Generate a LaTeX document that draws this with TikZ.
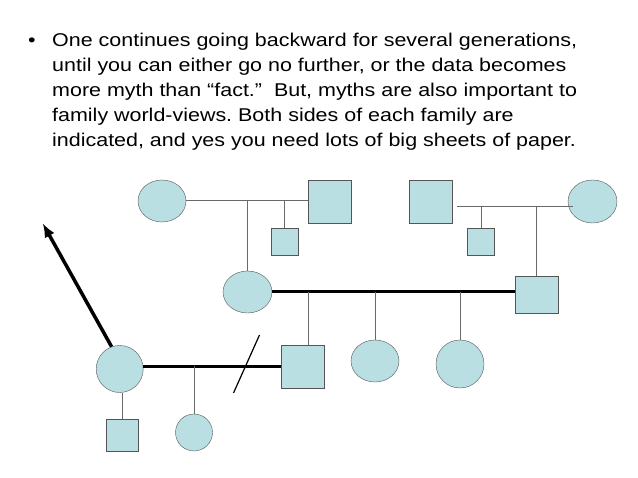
\documentclass[tikz,border=0pt]{standalone}
\usepackage{fontspec}
\setmainfont{Liberation Sans}[FakeStretch=1.16]
\usetikzlibrary{shapes,arrows,arrows.meta,calc}
\definecolor{kinfill}{RGB}{185,223,227}
\definecolor{kinedge}{RGB}{85,85,85}
\definecolor{kinline}{RGB}{105,105,105}
\tikzstyle{line} = [draw=kinline, line width=1pt]
\tikzstyle{bond} = [draw, line width=3pt]
\tikzstyle{female} = [draw=kinedge, fill=kinfill, ellipse, minimum width=48pt, minimum height=42pt, inner sep=0pt]
\tikzstyle{male} = [draw=kinedge, fill=kinfill, rectangle, minimum size=43pt, inner sep=0pt]
\tikzstyle{kid} = [male, minimum size=27pt]
\frenchspacing

\begin{document}
\begin{tikzpicture}[x=1pt, y=-1pt, font={\fontsize{18.5}{25}\selectfont}]
        \useasboundingbox (0,0) rectangle (638,478);
        % bullet text
        \node[anchor=base west, inner sep=0pt] (dot) at (28,46.7) {•};
        \node[anchor=base west, inner sep=0pt, align=left] (txt) at (52,146.7) {One continues going backward for several generations,\\until you can either go no further, or the data becomes\\more myth than “fact.”\ \ But, myths are also important to\\family world-views. Both sides of each family are\\indicated, and yes you need lots of big sheets of paper.};
        % grandparents
        \node[female] (gma1) at (162,201) {};
        \node[male] (gpa1) at (329.5,201.5) {};
        \node[kid] (uncle1) at (284.5,241.5) {};
        \node[male] (gpa2) at (430.5,201.5) {};
        \node[kid] (uncle2) at (481,241.5) {};
        \node[female, minimum width=49pt, minimum height=43pt] (gma2) at (592.5,201.5) {};
        % parents
        \node[female, minimum width=49pt] (mom) at (247.5,292) {};
        \node[male, minimum height=37pt] (dad) at (536.5,294.5) {};
        % siblings
        \node[male] (bro) at (303,366.5) {};
        \node[female] (sis1) at (375,361) {};
        \node[female, minimum height=48pt] (sis2) at (460,364) {};
        \node[female, minimum width=47pt, minimum height=47pt] (self) at (119.7,369) {};
        % next generation
        \node[male, minimum size=32pt] (son) at (122,435) {};
        \node[female, minimum width=37pt, minimum height=37pt] (dtr) at (194,432.5) {};
        \coordinate (w2) at ($(gpa2.east)+(5,5)$);
        \coordinate (e2) at ($(gma2.west)+(5,5)$);
        \coordinate (cut) at (246.5,364);
        \coordinate (back) at (42.7,223.3);
        \path[line] (gma1.east) -- (gma1.east -| gpa1.west);
        \path[line] (mom.north) -- (mom.north |- gma1.east);
        \path[line] (uncle1.north) -- (uncle1.north |- gma1.east);
        \path[line] (w2) -- (e2);
        \path[line] (uncle2.north) -- (uncle2.north |- w2);
        \path[line] (dad.north) -- (dad.north |- w2);
        \path[bond] (mom.east) -- (mom.east -| dad.west);
        \path[line] ([xshift=5pt]bro.north) -- ([xshift=5pt]bro.north |- mom.east);
        \path[line] (sis1.north) -- (sis1.north |- mom.east);
        \path[line] (sis2.north) -- (sis2.north |- mom.east);
        \path[bond] (self.east |- bro.west) -- (bro.west);
        \draw[line width=1.2pt] ($(cut)+(-13,29)$) -- ($(cut)+(13,-29)$);
        \path[line] (son.north) -- (son.north |- self.south);
        \path[line] (dtr.north) -- (dtr.north |- bro.west);
        \draw[line width=3.5pt, -{Latex[length=14pt, width=11pt]}] (self.110) -- (back);
    \end{tikzpicture}
\end{document}
